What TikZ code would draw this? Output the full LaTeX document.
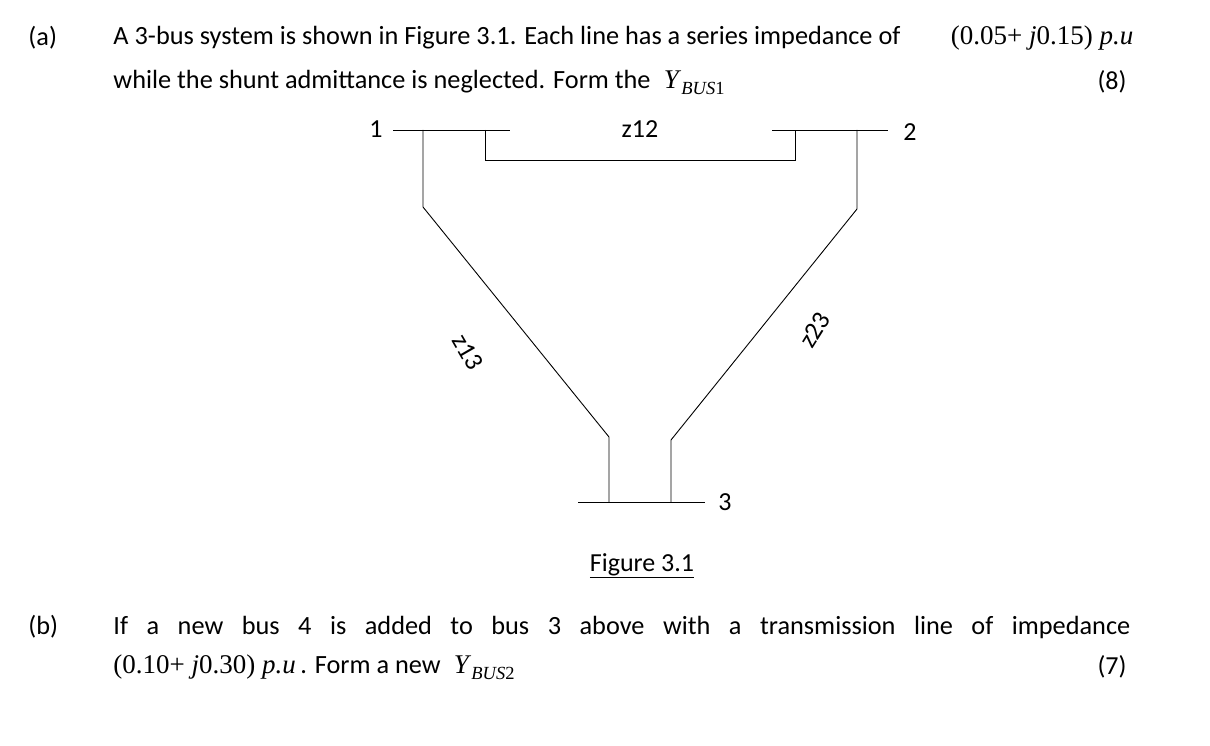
\documentclass[tikz,border=0pt]{standalone}
\usepackage{fontspec}
\setmainfont{Carlito}
\newfontfamily\tnr{Liberation Serif}
\newcommand{\mth}[1]{{\tnr\fontsize{27}{31}\selectfont #1}}
\newcommand{\Ybus}[1]{{\tnr\fontsize{27}{31}\selectfont\textit{Y}\raisebox{-6pt}{\fontsize{18.5}{19}\selectfont\textit{BUS}#1}}}
\begin{document}
\begin{tikzpicture}[x=1pt,y=-1pt,line width=0.9pt,
  txt/.style={anchor=west,inner sep=0,font=\fontsize{26.3}{30}\selectfont},
  lbl/.style={inner sep=0,font=\fontsize{26}{30}\selectfont}]
\useasboundingbox (0,0) rectangle (1210,746);
\node[txt] (pa) at (28,38) {(a)};
\node[txt] (l1) at (113,38) {\makebox[1020pt][l]{A 3-bus system is shown in Figure 3.1. Each line has a series impedance of\hfill\mth{(0.05+ \textit{j}0.15) \textit{p.u}}}};
\node[txt] (l2) at (113,82) {while the shunt admittance is neglected. Form the \;\Ybus{1}};
\node[lbl] (m8) at (1112,82) {(8)};
% buses
\draw (393,130) -- (510,130);
\draw (772,130) -- (888,130);
\draw (578,502) -- (705,502);
\node[lbl] (b1) at (376,129) {1};
\node[lbl] (b2) at (910,132) {2};
\node[lbl] (b3) at (725,502) {3};
% lines
\draw (485,130) -- (485,160) -- (795,160) -- (795,130);
\draw (423,130) -- (423,207) -- (609,437) -- (609,502);
\draw (857,130) -- (857,209) -- (671,440) -- (671,502);
\node[lbl] (z12) at (640,129) {z12};
\node[lbl,rotate=-60] (z13) at (468,352) {z13};
\node[lbl,rotate=58] (z23) at (815,330) {z23};
\node[lbl] (fig) at (642,566) {\underline{Figure 3.1}};
\node[txt] (pb) at (28,627) {(b)};
\node[txt] (l3) at (113,627) {\makebox[1017pt][s]{If a new bus 4 is added to bus 3 above with a transmission line of impedance}};
\node[txt] (l4) at (113,667) {\mth{(0.10+ \textit{j}0.30) \textit{p.u}}\,. Form a new \;\Ybus{2}};
\node[lbl] (m7) at (1112,667) {(7)};
\end{tikzpicture}
\end{document}
